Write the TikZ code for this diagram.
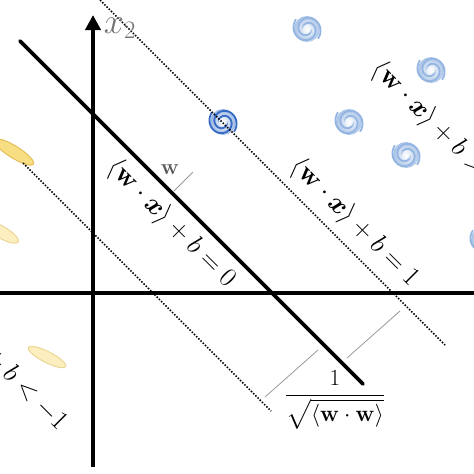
\RequirePackage{fix-cm}
\documentclass[tikz,border=0pt]{standalone}
\usepackage{amsmath}
\usetikzlibrary{arrows.meta}
\definecolor{gblue}{RGB}{60,120,200}
\definecolor{gdark}{RGB}{30,90,190}
\definecolor{ellfill}{RGB}{252,238,190}
\definecolor{elldraw}{RGB}{236,214,150}
\definecolor{ellfillB}{RGB}{248,222,130}
\definecolor{elldrawB}{RGB}{228,190,90}
\newcommand\galaxyat[3]{%
  \begin{scope}[shift={#1}]
    \shade[inner color=white, outer color=#2!45] (0,0) circle (13);
    \draw[#2!#3, line width=1.8pt, line cap=round] plot[domain=0:400, samples=40, smooth] ({(3.5+\x/36)*cos(\x)}, {(3.5+\x/36)*sin(\x)});
    \draw[#2!#3, line width=1.8pt, line cap=round] plot[domain=0:400, samples=40, smooth] ({(3.5+\x/36)*cos(\x+180)}, {(3.5+\x/36)*sin(\x+180)});
    \shade[inner color=white, outer color=#2!10, opacity=0.9] (0,0) circle (4.5);
  \end{scope}}
\tikzset{
  axis/.style={line width=4pt, black},
  sep/.style={line width=3.6pt, black, line cap=round},
  margin/.style={line width=1.5pt, dash pattern=on 1.5pt off 1.6pt, black},
  thin gray/.style={line width=0.8pt, black!40},
  lab/.style={font=\fontsize{27}{30}\selectfont, inner sep=0pt, rotate=-45},
}
\begin{document}
\begin{tikzpicture}[x=1pt,y=-1pt]
\useasboundingbox (0,0) rectangle (474,474);
\clip (0,0) rectangle (474,474);
% coordinates
\coordinate (hl) at (0,293);
\coordinate (hr) at (474,293);
\coordinate (vb) at (93,467);
\coordinate (vt) at (93,15);
\coordinate (s1) at (20,41);
\coordinate (s2) at (363,384);
\coordinate (u1) at (100,0);
\coordinate (u2) at (445,345);
\coordinate (l1) at (23,163);
\coordinate (l2) at (271,411);
\coordinate (w1) at (174,191);
\coordinate (w2) at (193,172);
\coordinate (d1) at (265,397);
\coordinate (d2) at (318,350);
\coordinate (d3) at (347,358);
\coordinate (d4) at (400,311);
% ellipses
\filldraw[fill=ellfillB, draw=elldrawB, line width=1pt, rotate around={-32:(14,152)}] (14,152) ellipse (23 and 6);
\filldraw[fill=ellfill, draw=elldraw, line width=1pt, rotate around={-30:(1,232)}] (1,232) ellipse (20 and 6);
\filldraw[fill=ellfill, draw=elldraw, line width=1pt, rotate around={-27:(47,357)}] (47,357) ellipse (21 and 5.5);
% galaxies
\galaxyat{(223,122)}{gdark}{90}
\galaxyat{(307,29)}{gblue}{55}
\galaxyat{(431,70)}{gblue}{55}
\galaxyat{(349,122)}{gblue}{55}
\galaxyat{(406,155)}{gblue}{55}
\galaxyat{(484,240)}{gblue}{55}
% lines
\draw[margin] (u1) -- (u2);
\draw[margin] (l1) -- (l2);
\draw[thin gray] (w1) -- (w2);
\draw[thin gray] (d1) -- (d2);
\draw[thin gray] (d3) -- (d4);
\draw[axis] (hl) -- (hr);
\draw[axis, -{Triangle[width=15pt,length=15pt]}] (vb) -- (vt);
\draw[sep] (s1) -- (s2);
% labels
\node[text=black!55, font=\fontsize{36}{38}\selectfont, inner sep=0pt] (x2) at (120,28) {$x_2$};
\node[text=black!65, font=\fontsize{22}{24}\selectfont, inner sep=0pt] (wl) at (170,170) {$\mathbf{w}$};
\node[lab] (h0) at (171,223.5) {$\langle\mathbf{w}\cdot\boldsymbol{x}\rangle+b=0$};
\node[lab] (h1) at (354.5,222.5) {$\langle\mathbf{w}\cdot\boldsymbol{x}\rangle+b=1$};
\node[lab] (hp) at (436,126) {$\langle\mathbf{w}\cdot\boldsymbol{x}\rangle+b>1$};
\node[lab] (hm) at (-5,359) {$\langle\mathbf{w}\cdot\boldsymbol{x}\rangle+b<-1$};
\node[font=\fontsize{23}{27}\selectfont, inner sep=0pt] (fr) at (335,400) {$\dfrac{1}{\sqrt{\langle\mathbf{w}\cdot\mathbf{w}\rangle}}$};
\end{tikzpicture}
\end{document}
